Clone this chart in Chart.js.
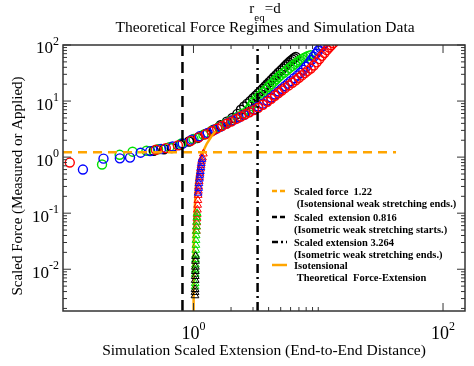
<!DOCTYPE html>
<html>
<head>
<meta charset="utf-8">
<script src="https://cdn.jsdelivr.net/npm/chart.js@4.4.0/dist/chart.umd.min.js"></script>
<style>
  html, body { margin: 0; padding: 0; background: #fff; }
  #wrap { width: 474px; height: 366px; }
</style>
</head>
<body>
<div id="wrap"><canvas id="forceChart" width="474" height="366"></canvas></div>
<script>
// axis ranges and ticks
const xRange = [0.09, 150];
const yRange = [0.0018, 100];
const xMajorTicks = [1, 100];
const xMinorTicks = [2, 3, 4, 5, 6, 7, 8, 9, 10];
const xTickLabels = [["10", "0"], ["10", "2"]];
const yMajorTicks = [100, 10, 1, 0.1, 0.01];
const yTickLabels = [["10", "2"], ["10", "1"], ["10", "0"], ["10", "-1"], ["10", "-2"]];

// reference regime values
const scaledForce = 1.22;
const weakStart = 0.816;
const weakEnd = 3.264;
const forceLineX = [0.09, 42];

// simulation data (extension, force)
const redCircles = [[0.102,0.8],[0.5,1.35],[0.6,1.45],[0.75,1.62],[0.95,1.95],[1.1,2.25],[1.25,2.55],[1.4,2.9],[1.55,3.25],[1.7,3.6],[1.85,3.95],[2.0,4.3],[2.2,4.8],[2.4,5.3],[2.6,5.8],[2.8,6.3],[3.05,6.9],[3.3,7.6],[3.6,8.6],[3.9,9.7],[4.2,11],[4.5,12.4],[4.8,13.9],[5.1,15.4],[5.4,17],[5.8,19],[6.2,21.2],[6.6,23.5],[7.0,26],[7.4,28.7],[7.8,31.5],[8.2,34.5],[8.7,38],[9.2,43],[9.7,49],[10.2,56],[10.7,64],[11.2,72],[11.7,81],[12.2,90],[12.7,99],[13.2,108]];
const blueCircles = [[0.13,0.6],[0.19,0.94],[0.257,0.95],[0.31,0.98],[0.377,1.2],[0.45,1.28],[0.55,1.4],[0.68,1.55],[0.82,1.75],[0.97,2.05],[1.12,2.35],[1.3,2.7],[1.48,3.1],[1.65,3.5],[1.85,4.0],[2.05,4.5],[2.3,5.1],[2.55,5.7],[2.8,6.35],[3.05,7.1],[3.3,8.0],[3.6,9.0],[3.9,10.2],[4.2,11.6],[4.5,13.1],[4.8,14.8],[5.1,16.6],[5.4,18.5],[5.7,20.5],[6.0,22.6],[6.4,25.5],[6.8,28.5],[7.2,32],[7.6,36],[8.0,41],[8.4,47],[8.8,54],[9.2,62],[9.6,70],[10.0,79],[10.4,88],[10.8,97],[11.2,108]];
const greenCircles = [[0.185,0.74],[0.256,1.1],[0.325,1.25],[0.42,1.3],[0.52,1.38],[0.64,1.5],[0.8,1.75],[1.0,2.1],[1.2,2.5],[1.4,2.95],[1.6,3.45],[1.8,3.95],[2.0,4.5],[2.25,5.2],[2.5,6.0],[2.75,7.0],[2.9,8.2],[3.0,9.5],[3.2,11],[3.4,12.5],[3.6,14.2],[3.8,16],[4.0,18],[4.2,20],[4.4,22.2],[4.6,24.5],[4.8,26.8],[5.0,29],[5.3,32],[5.6,35.5],[5.9,39],[6.2,42.5],[6.5,46],[6.8,49.5],[7.1,53],[7.4,56],[7.7,59],[8.0,61.5],[8.3,64],[8.7,66]];
const blackCircles = [[0.48,1.3],[0.58,1.38],[0.67,1.45],[0.78,1.65],[0.92,1.9],[1.08,2.2],[1.25,2.6],[1.45,3.1],[1.65,3.7],[1.85,4.3],[2.05,5.0],[2.25,5.9],[2.4,7.0],[2.55,8.0],[2.7,9.0],[2.85,10],[3.0,11.2],[3.15,12.4],[3.3,13.7],[3.45,15.1],[3.6,16.6],[3.75,18.2],[3.9,20],[4.05,21.8],[4.2,23.7],[4.4,26.3],[4.6,29],[4.8,32],[5.0,35],[5.2,38],[5.4,41.5],[5.6,45],[5.8,48.5],[6.0,52],[6.2,55],[6.4,58],[6.6,61]];

const redTriangles = [[1.2,1.15],[1.18,0.98],[1.16,0.85],[1.15,0.72],[1.14,0.62],[1.13,0.52],[1.12,0.44],[1.11,0.37],[1.1,0.3],[1.095,0.25],[1.09,0.21],[1.085,0.17],[1.08,0.14],[1.075,0.115],[1.07,0.095],[1.066,0.08],[1.062,0.068],[1.058,0.057],[1.055,0.048]];
const blueTriangles = [[1.17,0.92],[1.155,0.78],[1.145,0.66],[1.135,0.56],[1.125,0.48],[1.115,0.41],[1.105,0.34],[1.1,0.28],[1.09,0.23]];
const greenTriangles = [[1.07,0.1],[1.065,0.085],[1.06,0.07],[1.056,0.058],[1.052,0.048],[1.05,0.04],[1.047,0.033],[1.045,0.027],[1.042,0.022],[1.04,0.018],[1.038,0.015],[1.036,0.012],[1.034,0.0098],[1.032,0.0082],[1.031,0.0056],[1.03,0.0049]];
const blackTriangles = [[1.04,0.017],[1.038,0.014],[1.036,0.011],[1.035,0.0092],[1.033,0.0075],[1.032,0.0064],[1.03,0.0044],[1.029,0.0039],[1.028,0.0034]];

// isotensional theoretical force-extension curve
const theoryX = [0.995, 1.0, 1.005, 1.01, 1.02, 1.035, 1.05, 1.08, 1.12, 1.17, 1.22, 1.28, 1.35, 1.42, 1.5];
const theoryY = [0.0018, 0.005, 0.02, 0.05, 0.1, 0.2, 0.35, 0.55, 0.8, 1.1, 1.4, 1.75, 2.1, 2.5, 2.9];

const legendLabels = [
  ["Scaled force  1.22", " (Isotensional weak stretching ends.)"],
  ["Scaled  extension 0.816", "(Isometric weak stretching starts.)"],
  ["Scaled extension 3.264", "(Isometric weak stretching ends.)"],
  ["Isotensional", " Theoretical  Force-Extension"]
];

const ORANGE = "#ffa500";
const SERIF = '"Liberation Serif", "Times New Roman", serif';

const toPts = (arr) => arr.map(([x, y]) => ({ x, y }));

function circles(arr, color) {
  return {
    data: toPts(arr), showLine: false, pointStyle: "circle", pointRadius: 4.5,
    pointBorderWidth: 1.4, borderColor: color, backgroundColor: "rgba(0,0,0,0)"
  };
}
function triangles(arr, color) {
  return {
    data: toPts(arr), showLine: false, pointStyle: "triangle", pointRadius: 4.5,
    pointBorderWidth: 1, borderColor: color, backgroundColor: "rgba(0,0,0,0)"
  };
}
function refLine(pts, color, dash, width) {
  return {
    type: "line", data: pts, borderColor: color, borderDash: dash, borderWidth: width,
    pointRadius: 0, fill: false, tension: 0
  };
}

function drawPower(ctx, base, exp, x, y, align, big, small) {
  ctx.font = big + "px " + SERIF;
  const wb = ctx.measureText(base).width;
  ctx.font = small + "px " + SERIF;
  const we = ctx.measureText(exp).width;
  const x0 = align === "right" ? x - wb - we : x - (wb + we) / 2;
  ctx.textAlign = "left";
  ctx.textBaseline = "middle";
  ctx.font = big + "px " + SERIF;
  ctx.fillText(base, x0, y);
  ctx.font = small + "px " + SERIF;
  ctx.fillText(exp, x0 + wb, y - big * 0.42);
}

const framePlugin = {
  id: "frame",
  afterDraw(chart) {
    const ctx = chart.ctx;
    const { left, right, top, bottom } = chart.chartArea;
    const xs = chart.scales.x, ys = chart.scales.y;
    ctx.save();
    ctx.strokeStyle = "#333";
    ctx.lineWidth = 1.5;
    ctx.strokeRect(left, top, right - left, bottom - top);

    // ticks, all four sides
    ctx.lineWidth = 1;
    ctx.beginPath();
    const tick = (px, len, horiz) => {
      if (horiz) {
        ctx.moveTo(px, bottom); ctx.lineTo(px, bottom - len);
        ctx.moveTo(px, top); ctx.lineTo(px, top + len);
      } else {
        ctx.moveTo(left, px); ctx.lineTo(left + len, px);
        ctx.moveTo(right, px); ctx.lineTo(right - len, px);
      }
    };
    xMajorTicks.forEach(v => tick(xs.getPixelForValue(v), 8, true));
    xMinorTicks.forEach(v => tick(xs.getPixelForValue(v), 4, true));
    yMajorTicks.forEach(v => { if (v > yRange[0]) tick(ys.getPixelForValue(v), 8, false); });
    for (let d = 0.001; d < 100; d *= 10) {
      for (let k = 2; k <= 9; k++) {
        const v = k * d;
        if (v > yRange[0] && v < yRange[1]) tick(ys.getPixelForValue(v), 4, false);
      }
    }
    ctx.stroke();

    // tick labels
    ctx.fillStyle = "#000";
    xMajorTicks.forEach((v, i) => {
      drawPower(ctx, xTickLabels[i][0], xTickLabels[i][1], xs.getPixelForValue(v), bottom + 23, "center", 18, 12);
    });
    yMajorTicks.forEach((v, i) => {
      drawPower(ctx, yTickLabels[i][0], yTickLabels[i][1], left - 4, ys.getPixelForValue(v) + 4, "right", 17, 12);
    });

    // titles
    ctx.textBaseline = "middle";
    ctx.font = "15px " + SERIF;
    const wr = ctx.measureText("r").width, wd = ctx.measureText("=d").width;
    ctx.font = "11px " + SERIF;
    const we = ctx.measureText("eq").width;
    let tx = 265 - (wr + we + wd) / 2;
    ctx.textAlign = "left";
    ctx.font = "15px " + SERIF;
    ctx.fillText("r", tx, 9);
    ctx.font = "11px " + SERIF;
    ctx.fillText("eq", tx + wr, 18);
    ctx.font = "15px " + SERIF;
    ctx.fillText("=d", tx + wr + we, 9);
    ctx.textAlign = "center";
    ctx.font = "15.5px " + SERIF;
    ctx.fillText("Theoretical Force Regimes and Simulation Data", 265, 28);
    ctx.font = "15.5px " + SERIF;
    ctx.fillText("Simulation Scaled Extension (End-to-End Distance)", 264, 351);
    ctx.save();
    ctx.translate(18, 186);
    ctx.rotate(-Math.PI / 2);
    ctx.font = "15px " + SERIF;
    ctx.fillText("Scaled Force (Measured or Applied)", 0, 0);
    ctx.restore();

    // legend
    const styles = [
      { color: ORANGE, dash: [5, 3], width: 2.5 },
      { color: "#000", dash: [5, 3], width: 2.5 },
      { color: "#000", dash: [6, 3, 2, 3], width: 2.5 },
      { color: ORANGE, dash: [], width: 2.5 }
    ];
    const rows = [192, 218, 243, 266];
    ctx.textAlign = "left";
    ctx.font = "bold 10.5px " + SERIF;
    legendLabels.forEach((lines, i) => {
      const y = rows[i];
      ctx.strokeStyle = styles[i].color;
      ctx.lineWidth = styles[i].width;
      ctx.setLineDash(styles[i].dash);
      ctx.beginPath();
      ctx.moveTo(272, y - 1); ctx.lineTo(287, y - 1);
      ctx.stroke();
      ctx.setLineDash([]);
      ctx.fillStyle = "#000";
      ctx.fillText(lines[0], 294, y);
      ctx.fillText(lines[1], 294, y + 12);
    });
    ctx.restore();
  }
};

new Chart(document.getElementById("forceChart"), {
  type: "scatter",
  data: {
    datasets: [
      refLine([{ x: weakStart, y: yRange[0] }, { x: weakStart, y: yRange[1] }], "#000", [11, 6], 2.5),
      refLine([{ x: weakEnd, y: yRange[0] }, { x: weakEnd, y: yRange[1] }], "#000", [9, 4, 2, 4], 2.5),
      refLine([{ x: forceLineX[0], y: scaledForce }, { x: forceLineX[1], y: scaledForce }], ORANGE, [9, 6], 2.5),
      triangles(blackTriangles, "#000"),
      triangles(greenTriangles, "#00e000"),
      triangles(blueTriangles, "#0000ff"),
      triangles(redTriangles, "#ff0000"),
      refLine(theoryX.map((x, i) => ({ x, y: theoryY[i] })), ORANGE, [], 2.5),
      circles(redCircles, "#ff0000"),
      circles(blueCircles, "#0000ff"),
      circles(greenCircles, "#00e000"),
      circles(blackCircles, "#000")
    ]
  },
  options: {
    responsive: false,
    animation: false,
    layout: { padding: { left: 63, right: 9, top: 45, bottom: 55 } },
    plugins: { legend: { display: false }, tooltip: { enabled: false } },
    scales: {
      x: { type: "logarithmic", min: xRange[0], max: xRange[1], display: false },
      y: { type: "logarithmic", min: yRange[0], max: yRange[1], display: false }
    }
  },
  plugins: [framePlugin]
});
</script>
</body>
</html>
